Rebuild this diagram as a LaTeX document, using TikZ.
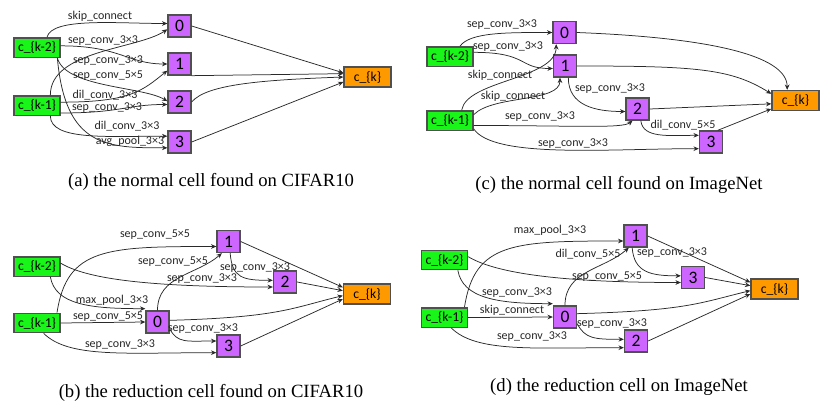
\documentclass[tikz,border=0pt]{standalone}
\usepackage{fontspec}
\setmainfont{Liberation Serif}
\newfontfamily\calfont{Carlito}
\usetikzlibrary{arrows.meta}
\definecolor{cgreen}{HTML}{19F519}
\definecolor{cpurple}{HTML}{CC66FF}
\definecolor{corange}{HTML}{FF9900}
\definecolor{bord}{HTML}{505050}
\definecolor{edgec}{HTML}{2A2A2A}
\tikzset{
  inbox/.style={draw=bord, line width=0.8pt, fill=cgreen, minimum width=27.6pt, minimum height=11.6pt, inner sep=0pt, font=\calfont\fontsize{8.2}{9}\selectfont},
  midbox/.style={draw=bord, line width=0.8pt, fill=cpurple, minimum width=13.8pt, minimum height=13.2pt, inner sep=0pt, font=\calfont\fontsize{10.5}{11}\selectfont},
  outbox/.style={draw=bord, line width=0.8pt, fill=corange, minimum width=28.2pt, minimum height=12pt, inner sep=0pt, font=\calfont\fontsize{8.2}{9}\selectfont},
  conn/.style={draw=edgec, line width=0.45pt, -{Stealth[length=3.2pt,width=2.8pt]}},
  lab/.style={inner sep=0pt, text=black!85, font=\calfont\fontsize{7.2}{8}\selectfont},
  captext/.style={inner sep=0pt, font=\fontsize{11.2}{13}\selectfont}
}
\begin{document}
\begin{tikzpicture}[x=0.6pt,y=-0.6pt]
\useasboundingbox (0,0) rectangle (825,412);
% ================= (a) =================
\node[inbox] (aK2) at (37,47.5) {c\_\{k-2\}};
\node[inbox] (aK1) at (37,105.5) {c\_\{k-1\}};
\node[midbox] (aN0) at (179.5,26) {0};
\node[midbox] (aN1) at (179.5,64) {1};
\node[midbox] (aN2) at (179.5,102) {2};
\node[midbox] (aN3) at (179.5,142) {3};
\node[outbox] (aCK) at (367.5,77) {c\_\{k\}};
\draw[conn] ([xshift=6pt]aK2.north) .. controls +(5,-20) and +(-50,0) .. ([yshift=1.5pt]aN0.west);
\draw[conn] ([yshift=1pt]aK2.east) .. controls +(60,0) and +(-40,0) .. (aN1.west);
\draw[conn] ([xshift=8pt]aK1.north) .. controls +(0,-45) and +(-30,20) .. ([yshift=-2pt]aN0.west);
\draw[conn] ([xshift=-2pt]aK2.south east) .. controls +(8,30) and +(-25,-15) .. ([yshift=0.5pt]aN2.west);
\draw[conn] ([yshift=2pt]aK1.east) .. controls +(70,0) and +(-25,20) .. ([yshift=-4pt]aN1.west);
\draw[conn] ([yshift=-4.5pt]aK1.east) .. controls +(60,0) and +(-40,0) .. ([yshift=-1.5pt]aN2.west);
\draw[conn] ([xshift=8pt]aK1.south) .. controls +(0,25) and +(-60,0) .. ([yshift=3.5pt]aN3.west);
\draw[conn] ([xshift=-2pt]aK2.south east) .. controls +(8,90) and +(-60,0) .. ([yshift=-3.5pt]aN3.west);
\draw[conn] (aN0.east) -- ([yshift=2.5pt]aCK.west);
\draw[conn] (aN1.south east) -- ([yshift=2pt]aCK.west);
\draw[conn] (aN2.east) .. controls +(15,-18) and +(-80,3) .. (aCK.west);
\draw[conn] (aN3.east) -- ([yshift=-3pt]aCK.west);
\node[lab] (aL1) at (100,16) {skip\_connect};
\node[lab] (aL2) at (103,41) {sep\_conv\_3×3};
\node[lab] (aL3) at (108,61) {sep\_conv\_3×3};
\node[lab] (aL4) at (108,76) {sep\_conv\_5×5};
\node[lab] (aL5) at (105,95) {dil\_conv\_3×3};
\node[lab] (aL6) at (107,107.5) {sep\_conv\_3×3};
\node[lab] (aL7) at (127,126) {dil\_conv\_3×3};
\node[lab] (aL8) at (130,141) {avg\_pool\_3×3};
\node[captext] (aCap) at (211,182) {(a) the normal cell found on CIFAR10};
% ================= (c) =================
\node[inbox] (cK2) at (450,56.5) {c\_\{k-2\}};
\node[inbox] (cK1) at (450,120.5) {c\_\{k-1\}};
\node[midbox] (cN0) at (564.5,32.5) {0};
\node[midbox] (cN1) at (565,66) {1};
\node[midbox] (cN2) at (637.5,109) {2};
\node[midbox] (cN3) at (711,142) {3};
\node[outbox] (cCK) at (795.5,100.5) {c\_\{k\}};
\draw[conn] ([xshift=6pt]cK2.north) .. controls +(10,-14) and +(-45,0) .. (cN0.west);
\draw[conn] ([yshift=2.5pt]cK2.east) .. controls +(55,0) and +(-35,0) .. ([yshift=-1.5pt]cN1.west);
\draw[conn] ([xshift=7pt]cK1.north) .. controls +(5,-30) and +(0,35) .. ([xshift=-5pt]cN0.south);
\draw[conn] ([yshift=3.5pt]cK1.east) .. controls +(20,-20) and +(0,25) .. ([xshift=-3pt]cN1.south);
\draw[conn] ([yshift=-3pt]cK1.east) .. controls +(100,0) and +(-10,8) .. ([xshift=-3pt]cN2.south);
\draw[conn] ([yshift=-5pt]cK1.east) .. controls +(20,30) and +(-90,0) .. ([yshift=-4pt]cN3.west);
\draw[conn] ([xshift=2pt]cN1.south) .. controls +(0,28) and +(-30,0) .. ([yshift=-1.5pt]cN2.west);
\draw[conn] ([xshift=2pt]cN2.south) .. controls +(2,18) and +(-30,0) .. ([yshift=4pt]cN3.west);
\draw[conn] (cN0.east) .. controls +(130,5) and +(0,-35) .. ([xshift=-5pt]cCK.north);
\draw[conn] (cN1.east) .. controls +(120,0) and +(-40,-25) .. ([yshift=4pt]cCK.west);
\draw[conn] (cN2.east) -- ([yshift=-2pt]cCK.west);
\draw[conn] (cN3.60) -- ([yshift=-5pt]cCK.west);
\node[lab] (cL1) at (502,25) {sep\_conv\_3×3};
\node[lab] (cL2) at (508,46.5) {sep\_conv\_3×3};
\node[lab] (cL3) at (500,75) {skip\_connect};
\node[lab] (cL4) at (513,96.5) {skip\_connect};
\node[lab] (cL5) at (540,116.5) {sep\_conv\_3×3};
\node[lab] (cL6) at (573,144) {sep\_conv\_3×3};
\node[lab] (cL7) at (610,89) {sep\_conv\_3×3};
\node[lab] (cL8) at (683,125) {dil\_conv\_5×5};
\node[captext] (cCap) at (619,185) {(c) the normal cell found on ImageNet};
% ================= (b) =================
\node[inbox] (bK2) at (37,266.5) {c\_\{k-2\}};
\node[inbox] (bK1) at (37,323) {c\_\{k-1\}};
\node[midbox] (bN0) at (157.5,322) {0};
\node[midbox] (bN1) at (228.5,241.5) {1};
\node[midbox] (bN2) at (285,282) {2};
\node[midbox] (bN3) at (228.5,346) {3};
\node[outbox] (bCK) at (367,294) {c\_\{k\}};
\draw[conn] ([xshift=12pt]bK1.north) .. controls +(10,-65) and +(-110,0) .. ([yshift=-3pt]bN1.west);
\draw[conn] (bN0.north) .. controls +(0,-35) and +(-25,22) .. ([xshift=-4pt]bN1.south);
\draw[conn] ([xshift=1pt]bN1.south) .. controls +(2,25) and +(-30,0) .. ([yshift=1pt]bN2.west);
\draw[conn] ([yshift=2pt]bK2.east) .. controls +(25,15) and +(-130,0) .. ([yshift=-3pt]bN2.west);
\draw[conn] ([xshift=8pt]bK2.south) .. controls +(5,28) and +(-55,0) .. ([yshift=1pt]bN0.north west);
\draw[conn] (bK1.east) -- (bN0.west);
\draw[conn] ([yshift=3pt]bN0.south east) .. controls +(8,15) and +(-30,0) .. ([yshift=3pt]bN3.west);
\draw[conn] ([xshift=4pt]bK1.south) .. controls +(25,25) and +(-90,0) .. ([yshift=-4pt]bN3.west);
\draw[conn] (bN1.east) -- ([yshift=4pt]bCK.west);
\draw[conn] (bN2.east) -- ([yshift=2pt]bCK.west);
\draw[conn] ([yshift=1pt]bN0.east) .. controls +(110,-3) and +(-50,12) .. ([yshift=-1pt]bCK.west);
\draw[conn] (bN3.east) -- ([yshift=-3pt]bCK.west);
\node[lab] (bL1) at (155,235) {sep\_conv\_5×5};
\node[lab] (bL2) at (173,262) {sep\_conv\_5×5};
\node[lab] (bL3) at (255,268) {sep\_conv\_3×3};
\node[lab] (bL4) at (202,279) {sep\_conv\_3×3};
\node[lab] (bL5) at (112,300) {max\_pool\_3×3};
\node[lab] (bL6) at (108,317) {sep\_conv\_5×5};
\node[lab] (bL7) at (203,329) {sep\_conv\_3×3};
\node[lab] (bL8) at (120,345) {sep\_conv\_3×3};
\node[captext] (bCap) at (211,393) {(b) the reduction cell found on CIFAR10};
% ================= (d) =================
\node[inbox] (dK2) at (444.5,260) {c\_\{k-2\}};
\node[inbox] (dK1) at (444.5,317.5) {c\_\{k-1\}};
\node[midbox] (dN0) at (565,317) {0};
\node[midbox] (dN1) at (635.5,236) {1};
\node[midbox] (dN3) at (693,277.5) {3};
\node[midbox] (dN2) at (636,341) {2};
\node[outbox] (dCK) at (774.5,289) {c\_\{k\}};
\draw[conn] ([xshift=12pt]dK1.north) .. controls +(10,-65) and +(-110,0) .. ([yshift=-3pt]dN1.west);
\draw[conn] (dN0.north) .. controls +(0,-35) and +(-25,22) .. ([xshift=-4pt]dN1.south);
\draw[conn] ([xshift=-2pt]dN1.south) .. controls +(2,25) and +(-30,0) .. ([yshift=1pt]dN3.west);
\draw[conn] ([yshift=2pt]dK2.east) .. controls +(25,15) and +(-130,0) .. ([yshift=-3pt]dN3.west);
\draw[conn] ([xshift=8pt]dK2.south) .. controls +(5,28) and +(-55,0) .. ([yshift=1pt]dN0.north west);
\draw[conn] (dK1.east) -- (dN0.west);
\draw[conn] ([yshift=3pt]dN0.south east) .. controls +(8,15) and +(-30,0) .. ([yshift=1pt]dN2.west);
\draw[conn] ([xshift=4pt]dK1.south) .. controls +(25,25) and +(-90,0) .. ([yshift=-4pt]dN2.west);
\draw[conn] (dN1.east) -- ([yshift=4pt]dCK.west);
\draw[conn] (dN3.east) -- ([yshift=2pt]dCK.west);
\draw[conn] ([yshift=2pt]dN0.east) .. controls +(110,-3) and +(-50,12) .. ([yshift=-1pt]dCK.west);
\draw[conn] (dN2.east) -- ([yshift=-3pt]dCK.west);
\node[lab] (dL1) at (550,230) {max\_pool\_3×3};
\node[lab] (dL2) at (588,254) {dil\_conv\_5×5};
\node[lab] (dL3) at (672,253) {sep\_conv\_3×3};
\node[lab] (dL4) at (607,277) {sep\_conv\_5×5};
\node[lab] (dL5) at (517,293) {sep\_conv\_3×3};
\node[lab] (dL6) at (512,310) {skip\_connect};
\node[lab] (dL7) at (612,324) {sep\_conv\_3×3};
\node[lab] (dL8) at (532,337) {sep\_conv\_3×3};
\node[captext] (dCap) at (619,387) {(d) the reduction cell on ImageNet};
\end{tikzpicture}
\end{document}
